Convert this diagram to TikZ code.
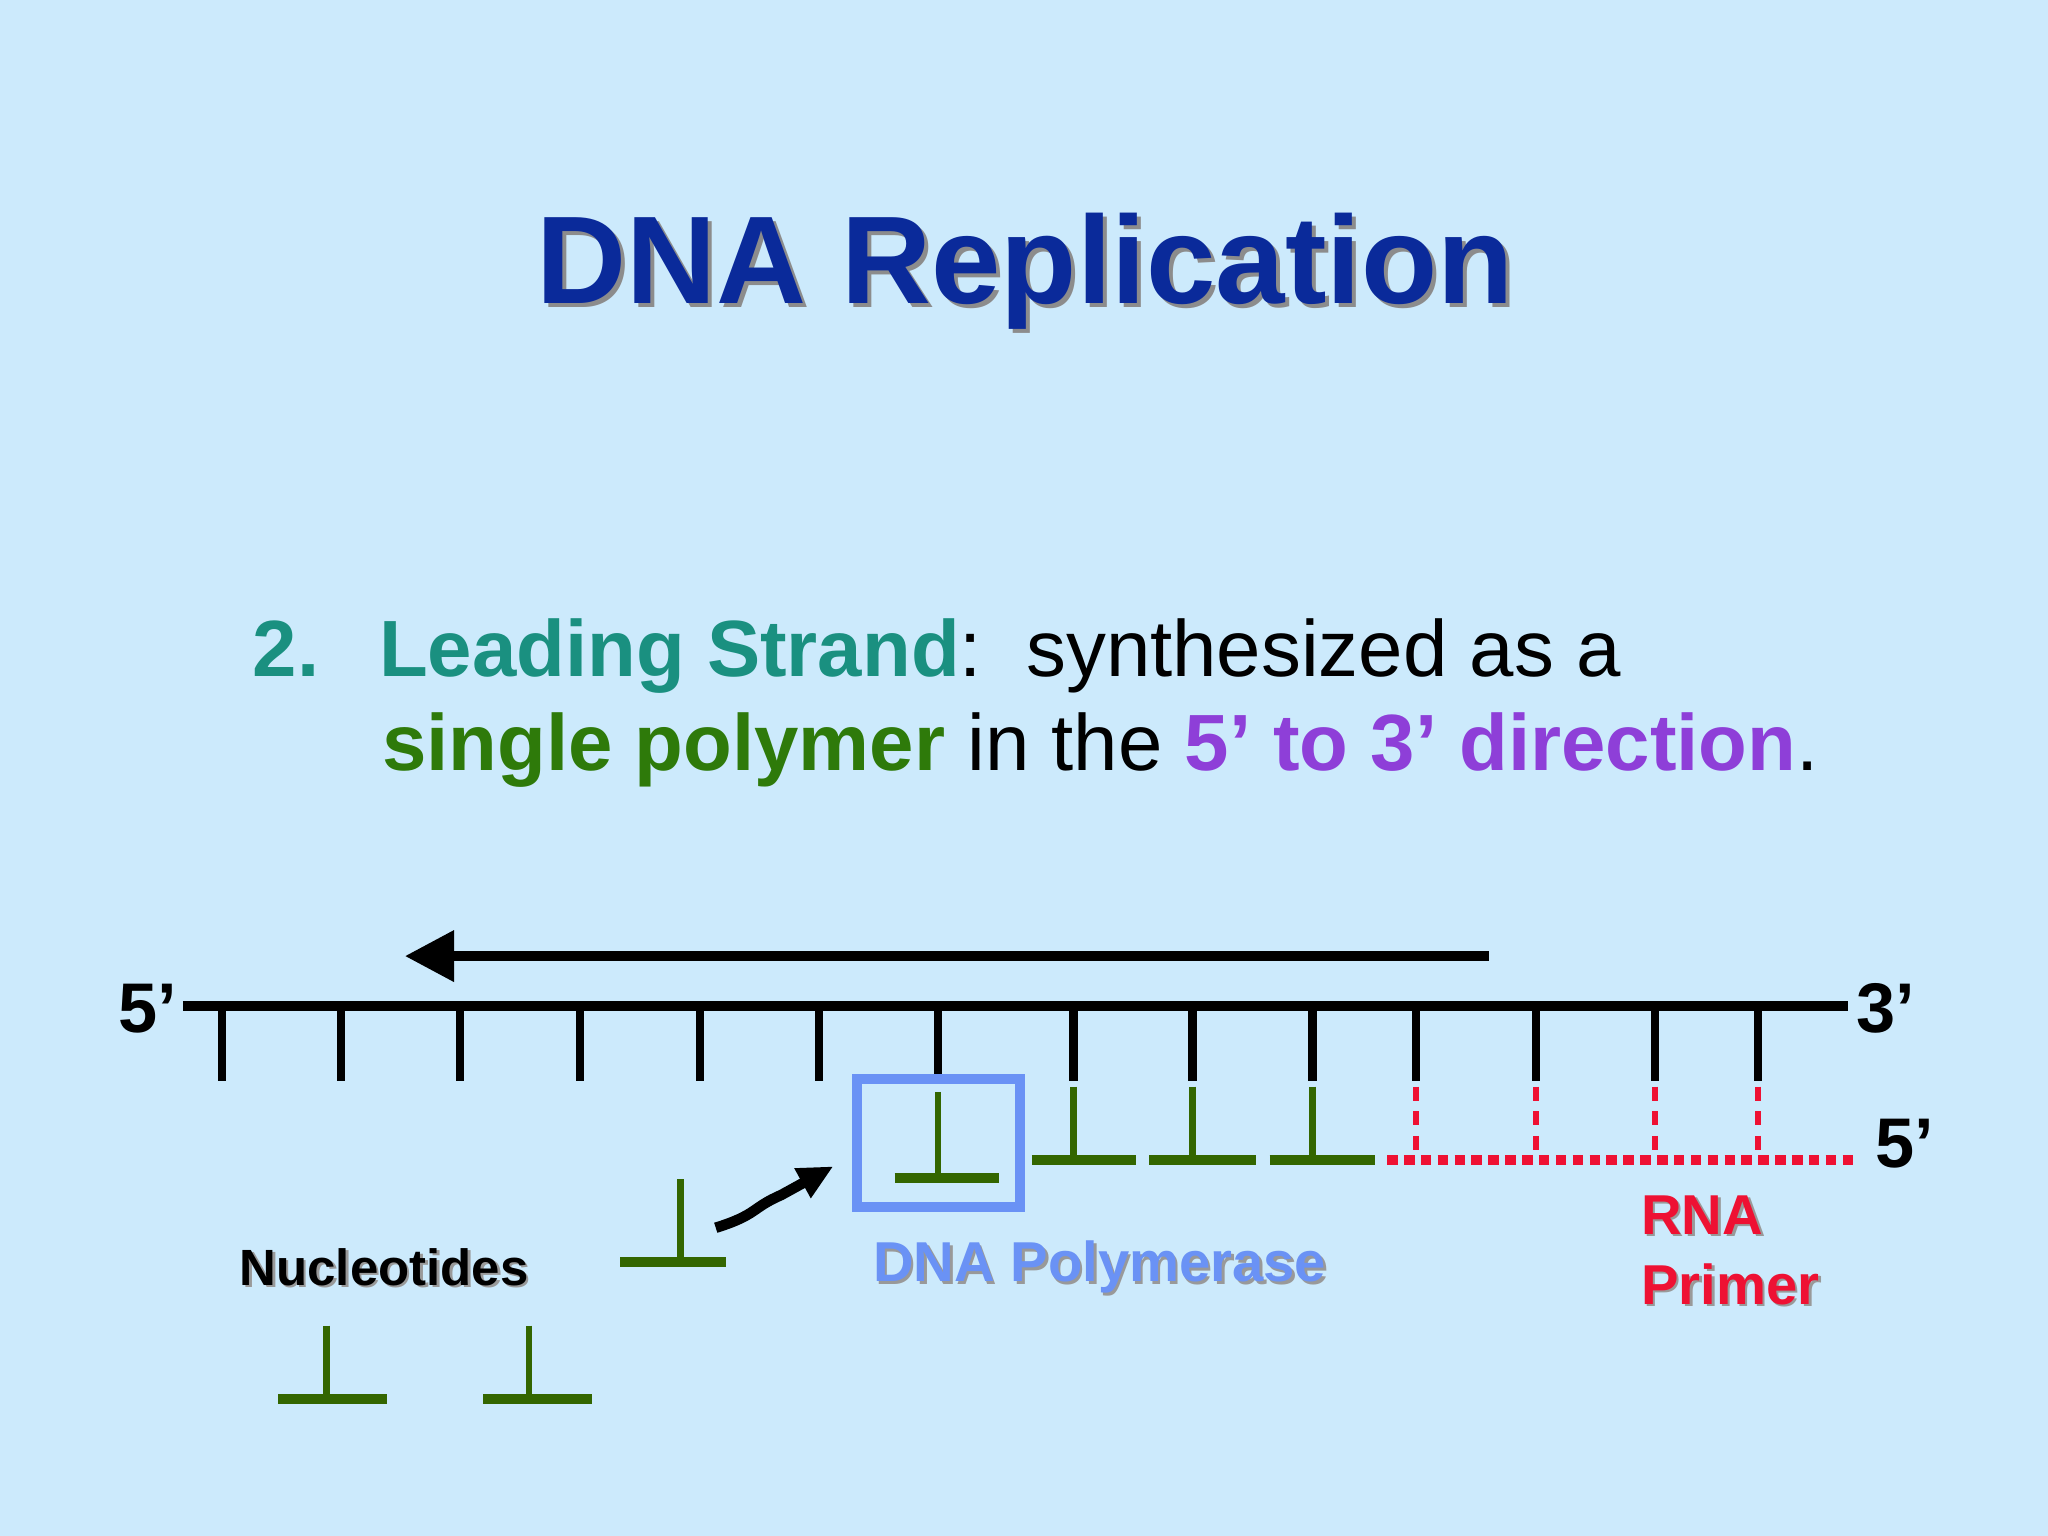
\documentclass[tikz,border=0pt]{standalone}
\usepackage{fontspec}
\setmainfont{Liberation Sans}
\usetikzlibrary{arrows.meta}
\definecolor{bg}{HTML}{CCEAFC}
\definecolor{ttl}{HTML}{0A2A9A}
\definecolor{teal}{HTML}{1A9080}
\definecolor{grn}{HTML}{2E7A0A}
\definecolor{ntd}{HTML}{336600}
\definecolor{purp}{HTML}{8E3FD8}
\definecolor{rd}{HTML}{EE1133}
\definecolor{blu}{HTML}{6A92F5}
\begin{document}
\begin{tikzpicture}[x=0.013062cm,y=-0.013062cm,
  tick/.style={line width=2.4pt,black},
  gstem/.style={line width=1.8pt,ntd},
  gbar/.style={line width=2.8pt,ntd},
  rstem/.style={line width=1.8pt,rd,dash pattern=on 4pt off 3pt},
  lab/.style={font=\bfseries\fontsize{14.5}{16}\selectfont,inner sep=0pt},
  big/.style={font=\bfseries\fontsize{16}{18}\selectfont,inner sep=0pt}]
\fill[bg] (0,0) rectangle (1568,1176);
% title
\node[font=\bfseries\fontsize{35.5}{40}\selectfont,text=black!45] (tsh) at (788,211) {DNA Replication};
\node[font=\bfseries\fontsize{35.5}{40}\selectfont,text=ttl] (title) at (785,208) {DNA Replication};
% text
\node[anchor=base west,inner sep=0pt,font=\fontsize{22.7}{28}\selectfont] (l1) at (193,518)
 {\textcolor{teal}{\bfseries 2.}\hspace{0.75em}\textcolor{teal}{\bfseries Leading Strand}:\ \ synthesized as a};
\node[anchor=base west,inner sep=0pt,font=\fontsize{22.7}{28}\selectfont] (l2) at (292,590)
 {\textcolor{grn}{\bfseries single polymer} in the \textcolor{purp}{\bfseries 5’ to 3’ direction}.};
% direction arrow
\coordinate (a1) at (1140,732); \coordinate (a2) at (310,732);
\draw[line width=2.8pt,-{Triangle[length=14pt,width=14pt]}] (a1) -- (a2);
% backbone
\coordinate (b1) at (140,770); \coordinate (b2) at (1415,770);
\draw[line width=2.8pt] (b1) -- (b2);
\node[font=\bfseries\fontsize{20}{24}\selectfont] (p5) at (113,772) {5’};
\node[font=\bfseries\fontsize{20}{24}\selectfont] (p3) at (1444,772) {3’};
\node[font=\bfseries\fontsize{20}{24}\selectfont] (q5) at (1458,876) {5’};
\foreach \x in {170,261,352,444,536,627,718,822,913,1005,1084,1176,1267,1346}
  \draw[tick] (\x,770) -- (\x,828);
% new green strand
\foreach \x/\l/\r in {822/790/870,913/880/962,1005/972/1053}{
  \draw[gstem] (\x,832) -- (\x,888);
  \draw[gbar] (\l,888) -- (\r,888);}
% RNA primer
\foreach \x in {1084,1176,1267,1346}
  \draw[rstem] (\x,832) -- (\x,888);
\draw[line width=2.8pt,rd,dash pattern=on 3pt off 1.8pt] (1062,888) -- (1420,888);
% polymerase box
\draw[blu,line width=2.8pt] (656,826) rectangle (781,924);
\node (box) at (718,875) {};
\draw[gstem] (718,836) -- (718,902);
\draw[gbar] (685,902) -- (765,902);
% free nucleotides
\draw[gstem] (521,903) -- (521,966); \draw[gbar] (475,966) -- (556,966);
\draw[gstem] (250,1015) -- (250,1071); \draw[gbar] (213,1071) -- (296,1071);
\draw[gstem] (405,1015) -- (405,1071); \draw[gbar] (370,1071) -- (453,1071);
% curved arrow
\coordinate (c1) at (548,940); \coordinate (c2) at (638,893);
\draw[line width=3pt,-{Triangle[length=10pt,width=9pt]}] (c1) .. controls (580,930) and (575,925) .. (598,915) -- (c2);
% labels
\node[lab,text=black!40] at (296,972) {Nucleotides};
\node[lab] (nuc) at (294,970) {Nucleotides};
\node[big,text=black!40] at (844,972) {DNA Polymerase};
\node[big,text=blu] (pol) at (842,970) {DNA Polymerase};
\node[big,text=black!40,anchor=west] at (1258,932) {RNA};
\node[big,text=rd,anchor=west] (rna) at (1256,930) {RNA};
\node[big,text=black!40,anchor=west] at (1258,985) {Primer};
\node[big,text=rd,anchor=west] (prim) at (1256,983) {Primer};
\end{tikzpicture}
\end{document}
